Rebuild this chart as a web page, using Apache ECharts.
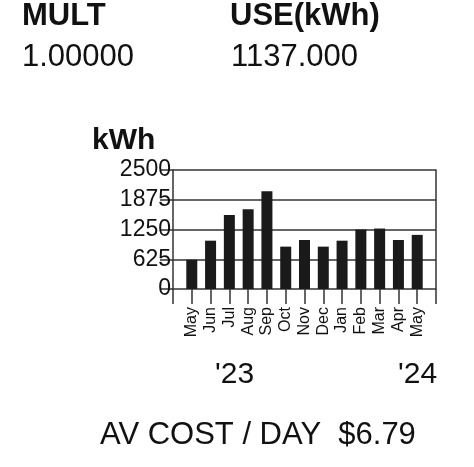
<!DOCTYPE html>
<html><head><meta charset="utf-8">
<script src="https://cdn.jsdelivr.net/npm/echarts@6/dist/echarts.min.js"></script>
<style>html,body{margin:0;background:#fff}#c{width:474px;height:467px}</style>
</head><body><div id="c"></div>
<script>
// months, padded with empty slots at both ends so bars sit on ticks
var months = ['', 'May', 'Jun', 'Jul', 'Aug', 'Sep', 'Oct', 'Nov', 'Dec', 'Jan', 'Feb', 'Mar', 'Apr', 'May', ''];
var usage = [null, 615, 1015, 1555, 1675, 2055, 890, 1030, 890, 1015, 1250, 1270, 1030, 1137, null];
var yTicks = [0, 625, 1250, 1875, 2500];

var F = 'Liberation Sans, Arial, sans-serif';
var chart = echarts.init(document.getElementById('c'));
chart.setOption({
    animation: false,
    grid: {left: 173, right: 38, top: 170, bottom: 178},
    xAxis: {
        type: 'category', data: months, boundaryGap: false,
        axisLine: {show: false},
        axisTick: {show: true, interval: 0, length: 15, lineStyle: {color: '#333', width: 1.5}},
        axisLabel: {interval: 0, rotate: 90, color: '#111', fontFamily: F, fontSize: 16, margin: 18},
        splitLine: {show: false}
    },
    yAxis: [{
        type: 'value', min: 0, max: 2500, interval: 625,
        axisLine: {show: true, lineStyle: {color: '#333', width: 1.5}},
        axisTick: {show: true, length: 13, lineStyle: {color: '#333', width: 1.5}},
        axisLabel: {color: '#111', fontFamily: F, fontSize: 23, margin: 2,
            formatter: function (v) { return yTicks.indexOf(v) >= 0 ? String(v) : ''; }},
        splitLine: {show: true, lineStyle: {color: '#333', width: 1.5}}
    }, {
        type: 'value', min: 0, max: 2500, interval: 625, position: 'right',
        axisLine: {show: true, lineStyle: {color: '#333', width: 1.5}},
        axisTick: {show: false}, axisLabel: {show: false}, splitLine: {show: false}
    }],
    series: [{
        type: 'bar', data: usage, barWidth: 11,
        itemStyle: {color: '#1a1a1a'}
    }],
    graphic: [
        {type: 'text', left: 22, top: 1, style: {text: 'MULT', font: 'bold 31px ' + F, fill: '#111'}},
        {type: 'text', left: 22, top: 42, style: {text: '1.00000', font: '31px ' + F, fill: '#111'}},
        {type: 'text', left: 230, top: 1, style: {text: 'USE(kWh)', font: 'bold 31px ' + F, fill: '#111'}},
        {type: 'text', left: 231, top: 42, style: {text: '1137.000', font: '31px ' + F, fill: '#111'}},
        {type: 'text', left: 92, top: 126, style: {text: 'kWh', font: 'bold 30px ' + F, fill: '#111'}},
        {type: 'text', left: 215, top: 360, style: {text: "'23", font: '30px ' + F, fill: '#111'}},
        {type: 'text', left: 398, top: 360, style: {text: "'24", font: '30px ' + F, fill: '#111'}},
        {type: 'text', left: 100, top: 420, style: {text: 'AV COST / DAY  $6.79', font: '31px ' + F, fill: '#111'}}
    ]
});
</script></body></html>
